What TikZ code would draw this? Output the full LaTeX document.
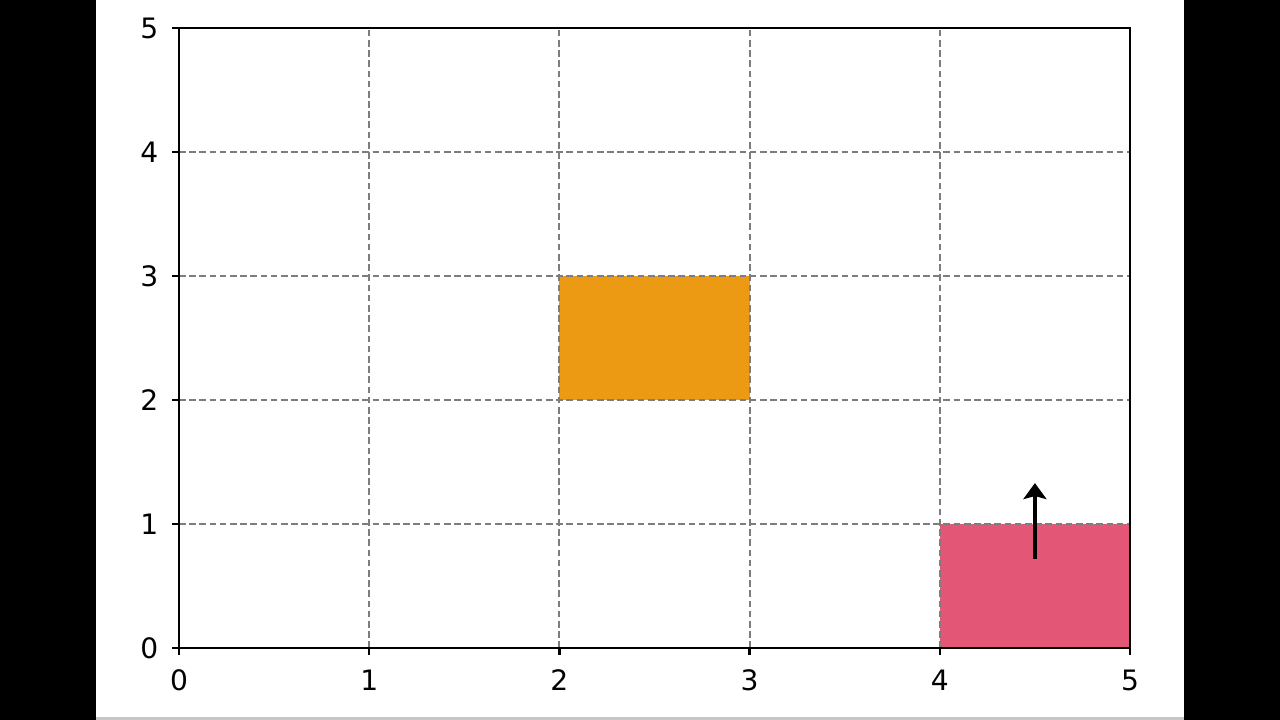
\documentclass[tikz,border=0pt]{standalone}
\usepackage{fontspec}
\setmainfont{DejaVu Sans}
\usetikzlibrary{arrows.meta}
\definecolor{goal}{RGB}{236,153,20}
\definecolor{agent}{RGB}{228,86,117}
\definecolor{gridgray}{RGB}{125,125,125}

\begin{document}
\begin{tikzpicture}[x=1.902cm,y=1.24cm,
    gridline/.style={gridgray,line width=0.55pt,dash pattern=on 1.9pt off 1pt},
    spine/.style={black,line width=0.7pt},
    ticklabel/.style={font=\fontsize{8}{9}\selectfont,inner sep=0pt}]
  % Page and side bars
  \useasboundingbox (-1.79cm,-0.72cm) rectangle (11.01cm,6.48cm);
  \fill[white] (-1.79cm,-0.72cm) rectangle (11.01cm,6.48cm);
  \fill[black] (-1.79cm,-0.72cm) rectangle (-0.83cm,6.48cm);
  \fill[black] (10.05cm,-0.72cm) rectangle (11.01cm,6.48cm);
  \fill[gray!45] (-0.83cm,-0.72cm) rectangle (10.05cm,-0.69cm);

  % Cells
  \fill[goal] (2,2) rectangle (3,3);
  \fill[agent] (4,0) rectangle (5,1);

  % Grid
  \foreach \i in {1,...,4} {
    \draw[gridline] (\i,0) -- (\i,5);
    \draw[gridline] (0,\i) -- (5,\i);
  }

  % Axes frame and ticks
  \draw[spine] (0,0) rectangle (5,5);
  \foreach \i in {0,...,5} {
    \draw[spine] (\i,0) -- ++(0,-0.07cm);
    \draw[spine] (0,\i) -- ++(-0.07cm,0);
    \node[ticklabel,anchor=north] (xl\i) at ([yshift=-0.21cm]\i,0) {\i};
    \node[ticklabel,anchor=east] (yl\i) at ([xshift=-0.2cm]0,\i) {\i};
  }

  % Heading arrow
  \coordinate (tail) at (4.5,0.72);
  \coordinate (head) at (4.5,1.33);
  \draw[black,line width=1.2pt,-{Stealth[length=0.16cm,width=0.23cm,inset=0.03cm]}] (tail) -- (head);
\end{tikzpicture}
\end{document}
